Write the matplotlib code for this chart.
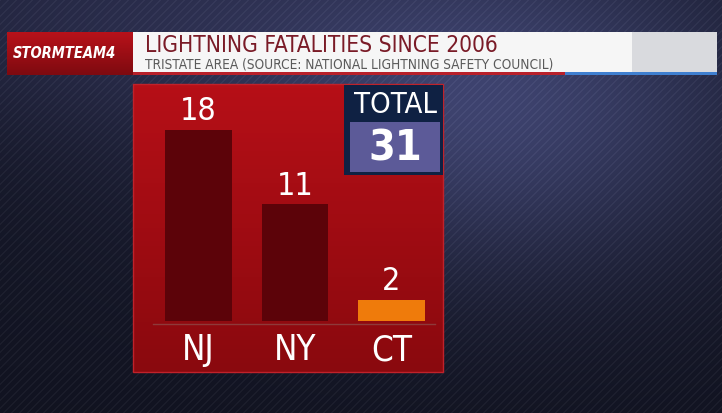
import numpy as np
import matplotlib
matplotlib.use("Agg")
import matplotlib.pyplot as plt
import matplotlib.font_manager as fm
from matplotlib.patches import Rectangle

# ---- data ----
categories = ["NJ", "NY", "CT"]
fatalities = [18, 11, 2]
total_label = "TOTAL"
total_value = sum(fatalities)
title = "LIGHTNING FATALITIES SINCE 2006"
subtitle = "TRISTATE AREA (SOURCE: NATIONAL LIGHTNING SAFETY COUNCIL)"
brand = "STORMTEAM4"

names = {f.name for f in fm.fontManager.ttflist}
if "Liberation Sans Narrow" in names:
    COND = dict(family="Liberation Sans Narrow")
else:
    COND = dict(family="DejaVu Sans", stretch="condensed")

W, H = 722, 414
fig = plt.figure(figsize=(W / 100, H / 100), dpi=100)
bg = fig.add_axes([0, 0, 1, 1])
bg.set_xlim(0, W)
bg.set_ylim(H, 0)
bg.axis("off")

# background: navy with glow and diagonal stripes
yy, xx = np.mgrid[0:H, 0:W]
base = np.array([0.09, 0.10, 0.17])
glow = np.exp(-(((xx - 490) / 260.0) ** 2 + ((yy - 110) / 170.0) ** 2))
glow2 = np.exp(-(((xx - 120) / 300.0) ** 2 + ((yy - 20) / 120.0) ** 2))
img = base[None, None, :] * (0.75 + 0.25 * (1 - yy / H))[..., None]
img = img + glow[..., None] * np.array([0.15, 0.16, 0.26]) + glow2[..., None] * np.array([0.06, 0.06, 0.10])
stripe = (((xx + yy) % 8) < 1.2).astype(float)
img = img + stripe[..., None] * 0.035
img = np.clip(img, 0, 1)
bg.imshow(img, extent=[0, W, H, 0], zorder=0, aspect="auto")

def vgrad(ax, x0, x1, y0, y1, ctop, cbot, z):
    n = 64
    t = np.linspace(0, 1, n)[:, None]
    ctop = np.array(matplotlib.colors.to_rgb(ctop))
    cbot = np.array(matplotlib.colors.to_rgb(cbot))
    g = (ctop[None, :] * (1 - t) + cbot[None, :] * t)[:, None, :]
    ax.imshow(g, extent=[x0, x1, y1, y0], zorder=z, aspect="auto")

# header
vgrad(bg, 7, 133, 33, 76, "#b8121a", "#7e0a10", 2)
bg.add_patch(Rectangle((133, 33), 499, 40, facecolor="#f6f6f6", edgecolor="none", zorder=2))
bg.add_patch(Rectangle((632, 33), 85, 40, facecolor="#d9dade", edgecolor="none", zorder=2))
bg.add_patch(Rectangle((133, 73), 432, 3, facecolor="#b8202a", edgecolor="none", zorder=2))
bg.add_patch(Rectangle((565, 73), 152, 3, facecolor="#3f7fd0", edgecolor="none", zorder=2))
bg.text(13, 54, brand, color="white", fontsize=10.5, fontweight="bold", style="italic",
        va="center", ha="left", zorder=3, **COND)
bg.text(145, 46, title, color="#7a1b27", fontsize=16.3, va="center", ha="left", zorder=3, **COND)
bg.text(145, 64.5, subtitle, color="#5a5a5a", fontsize=9.8, va="center", ha="left", zorder=3, **COND)

# red panel
vgrad(bg, 133, 443, 85, 373, "#b60f17", "#8a090e", 2)
bg.add_patch(Rectangle((133, 85), 310, 288, facecolor="none", edgecolor="#c0222a", lw=1, zorder=3))

# total box
bg.add_patch(Rectangle((344, 86), 99, 90, facecolor="#0f2143", edgecolor="none", zorder=4))
bg.add_patch(Rectangle((350, 123), 90, 50, facecolor="#5c5a98", edgecolor="none", zorder=5))
bg.text(395, 105, total_label, color="white", fontsize=21, va="center", ha="center", zorder=6, **COND)
bg.text(395, 149, str(total_value), color="white", fontsize=31, fontweight="bold",
        va="center", ha="center", zorder=6, **COND)

# bar axes
px_per_unit = 10.6
x_left, x_right = 150.25, 439.75
y_zero, y_top, y_bot = 322, 85, 373
ax = fig.add_axes([x_left / W, (H - y_bot) / H, (x_right - x_left) / W, (y_bot - y_top) / H])
ax.set_xlim(-0.5, 2.5)
ax.set_ylim(-(y_bot - y_zero) / px_per_unit, (y_zero - y_top) / px_per_unit)
ax.patch.set_alpha(0)
ax.axis("off")
colors = ["#5c0309", "#5c0309", "#ef7b0b"]
x = np.arange(len(categories))
ax.bar(x, fatalities, width=0.69, color=colors, zorder=3)
ax.plot([-0.47, 2.45], [-0.28, -0.28], color="#8e3a3a", lw=1, zorder=2)
for xi, v, c in zip(x, fatalities, categories):
    ax.text(xi, v + 0.35, str(v), color="white", fontsize=23, ha="center", va="bottom", **COND)
    ax.text(xi, -2.65, c, color="white", fontsize=25, ha="center", va="center", **COND)

fig.savefig("out.png", dpi=100)
